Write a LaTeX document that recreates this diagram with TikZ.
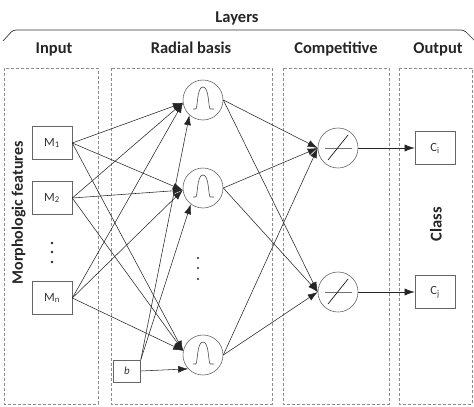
\documentclass[tikz,border=0pt]{standalone}
\usepackage{fontspec}
\setmainfont{Carlito}
\usetikzlibrary{arrows.meta}
\begin{document}
\begin{tikzpicture}[x=1pt,y=-1pt,
  hdr/.style={font=\bfseries\fontsize{16.5}{18}\selectfont, text=black!85, inner sep=0pt},
  layerbox/.style={draw=black!45, dash pattern=on 3pt off 2pt, line width=0.6pt},
  unit/.style={draw=black!60, line width=0.6pt, minimum width=40pt, minimum height=33pt, inner sep=0pt, text=black!80, font=\fontsize{12.5}{14}\selectfont},
  neuron/.style={circle, draw=black!60, line width=0.6pt, minimum size=40pt, inner sep=0pt},
  conn/.style={draw=black!85, line width=0.55pt, -{Latex[length=10pt,width=7pt]}},
  dotmark/.style={fill=black!85},
]
\useasboundingbox (0,0) rectangle (474,407);
% brace and headers
\draw[black!80, line width=0.7pt, rounded corners=3pt] (3,41) -- (13,30) -- (464,30) -- (475,41);
\node[hdr, anchor=base] (layers) at (237,22) {Layers};
\node[hdr, anchor=base] (hin) at (54,53) {Input};
\node[hdr, anchor=base] (hrb) at (191,53) {Radial basis};
\node[hdr, anchor=base] (hco) at (336,53) {Competitive};
\node[hdr, anchor=base] (hout) at (438,53) {Output};
% layer boxes
\draw[layerbox] (4,68) rectangle (98,404);
\draw[layerbox] (111,68) rectangle (272,404);
\draw[layerbox] (283,68) rectangle (389,404);
\draw[layerbox] (399,68) rectangle (472,404);
\node[hdr, rotate=90, font=\bfseries\fontsize{16}{18}\selectfont] (morph) at (18.5,213) {Morphologic features};
\node[hdr, rotate=90] (cls) at (436,224) {Class};
% input units
\node[unit] (M1) at (52,143) {M\textsubscript{1}};
\node[unit] (M2) at (52,198) {M\textsubscript{2}};
\node[unit] (Mn) at (52,298) {M\textsubscript{n}};
\foreach \y in {243,252,262} \fill[dotmark] (52,\y) circle (1.4);
% bias
\node[unit, minimum width=27pt, minimum height=22pt, font=\fontsize{11}{13}\selectfont] (b) at (127,371) {\itshape b};
% radial neurons
\node[neuron] (R1) at (203,100) {};
\node[neuron] (R2) at (203,188) {};
\node[neuron] (R3) at (203,355) {};
\foreach \n in {R1,R2,R3}
  \draw[black!70, line width=0.6pt, shift={(\n.center)}]
    (-10,9) -- (-7.5,9) .. controls (-5,9) and (-6.5,-13) .. (0,-13)
    .. controls (6.5,-13) and (5,9) .. (7.5,9) -- (11,9);
\foreach \y in {258,268,279} \fill[dotmark] (198,\y) circle (1.2);
% competitive neurons
\node[neuron] (K1) at (338,148) {};
\node[neuron] (K2) at (338,292) {};
\foreach \n in {K1,K2} {
  \draw[black!55, line width=0.8pt, shift={(\n.center)}] (-13,0) -- (14,0);
  \draw[black!90, line width=0.7pt, shift={(\n.center)}] (-10,12) -- (10,-13);
}
% output units
\node[unit] (Ci) at (435,148) {C\textsubscript{i}};
\node[unit] (Cj) at (435,292) {C\textsubscript{j}};
% input -> radial
\foreach \m in {M1,M2,Mn} {
  \draw[conn] (\m.east) -- (R1.188);
  \draw[conn] (\m.east) -- (R2.186);
  \draw[conn] (\m.east) -- (R3.168);
}
% bias -> radial
\draw[conn] (b.north east) -- (R1.228);
\draw[conn] (b.north east) -- (R2.233);
\draw[conn] (b.east) -- (R3.223);
% radial -> competitive
\foreach \r in {R1,R2,R3} {
  \draw[conn] (\r.east) -- (K1.west);
  \draw[conn] (\r.east) -- (K2.west);
}
% competitive -> output
\draw[conn] (K1.east) -- (Ci.west);
\draw[conn] (K2.east) -- (Cj.west);
\end{tikzpicture}
\end{document}
